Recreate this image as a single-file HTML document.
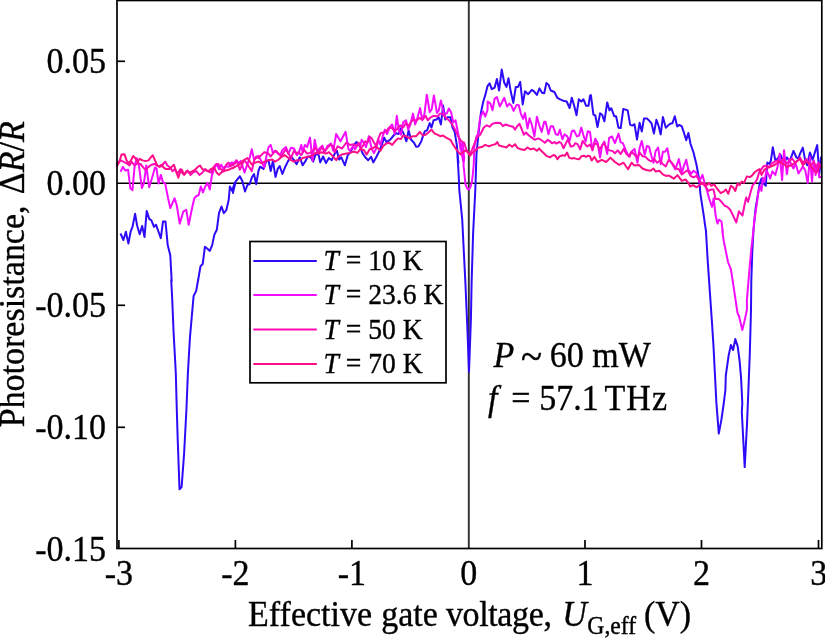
<!DOCTYPE html>
<html><head><meta charset="utf-8">
<style>
html,body{margin:0;padding:0;background:#fff;}
svg{display:block;}
text{font-family:"Liberation Serif",serif;fill:#000;stroke:#000;stroke-width:0.35;}
.tk{font-size:34px;}
.lg{font-size:27.6px;}
.ax{stroke:#000;stroke-width:1.7;fill:none;}
.c{fill:none;stroke-width:2;stroke-linejoin:round;}
</style></head>
<body>
<svg width="825" height="639" viewBox="0 0 825 639">
<rect width="825" height="639" fill="#fff"/>
<!-- zero lines -->
<line x1="117" y1="183.3" x2="821.8" y2="183.3" stroke="#000" stroke-width="1.4"/>
<line x1="468.8" y1="0" x2="468.8" y2="548.5" stroke="#2e2e2e" stroke-width="1.9"/>
<!-- CURVES -->
<path class="c" stroke="#2c0cf8" d="M120.5 233.5 L123.4 240.0 L125.9 231.7 L128.4 243.6 L130.7 231.3 L132.5 226.9 L135.1 213.8 L137.1 225.5 L139.7 234.2 L142.2 225.9 L144.5 237.1 L146.7 210.9 L149.2 218.9 L151.4 220.4 L154.0 226.9 L156.0 224.7 L158.6 232.0 L160.8 238.1 L163.0 221.5 L165.5 221.5 L167.7 245.1 L170.3 255.3 L171.7 281.5 L171.2 280.0 L172.2 298.9 L173.6 332.4 L175.8 372.9 L176.8 410.0 L177.7 439.1 L179.5 489.3 L181.6 487.1 L184.1 453.6 L186.4 410.0 L187.9 372.9 L189.9 338.2 L191.8 316.4 L193.6 296.0 L196.2 290.9 L198.1 280.0 L197.9 281.5 L200.5 266.2 L202.7 264.0 L204.9 246.8 L207.4 248.7 L209.8 250.9 L212.2 245.1 L214.3 234.9 L216.8 229.8 L219.0 213.1 L221.5 206.5 L223.8 213.1 L226.3 210.2 L228.7 200.0 L229.9 186.5 L232.1 190.9 L233.5 186.5 L235.0 182.2 L232.9 192.9 L235.8 181.3 L239.9 176.2 L242.4 181.3 L245.0 191.5 L247.5 184.9 L249.6 184.2 L251.8 177.6 L254.0 174.0 L256.2 184.2 L258.4 171.1 L260.1 166.7 L263.5 168.9 L266.4 160.9 L268.5 160.2 L270.7 171.1 L272.9 160.9 L275.5 176.9 L277.7 168.9 L279.7 166.0 L282.4 174.0 L285.3 166.7 L288.2 160.9 L291.1 156.5 L294.0 160.2 L296.6 164.1 L299.8 157.3 L302.7 165.3 L305.6 160.9 L307.8 156.5 L310.7 157.3 L313.2 161.6 L315.8 153.6 L318.7 155.1 L320.2 162.4 L323.1 156.5 L326.0 163.1 L328.9 158.0 L331.8 160.2 L334.7 153.6 L336.9 150.7 L339.1 159.5 L341.3 157.3 L344.9 165.3 L347.8 155.1 L350.0 152.9 L353.6 145.6 L356.5 142.0 L359.5 145.6 L362.4 152.9 L365.3 157.3 L368.2 160.2 L371.1 156.8 L373.3 162.4 L376.2 157.3 L379.1 151.5 L382.0 144.2 L384.2 137.6 L386.4 142.0 L390.0 139.8 L393.6 135.5 L395.8 133.3 L398.7 134.0 L400.9 128.2 L403.8 134.0 L406.4 141.3 L408.6 130.4 L411.1 139.8 L414.0 142.7 L416.2 146.7 L418.4 146.4 L421.3 141.3 L422.7 136.9 L424.9 131.1 L427.1 130.4 L429.7 123.1 L431.5 127.5 L433.6 120.2 L436.5 119.5 L438.7 117.3 L440.9 124.5 L443.1 105.6 L445.3 119.5 L447.5 117.3 L450.4 117.3 L452.5 127.5 L454.7 131.8 L456.9 145.6 L458.4 162.9 L456.9 146.4 L458.7 175.5 L459.3 190.0 L462.2 219.1 L465.4 282.9 L467.3 326.6 L469.0 371.7 L470.9 319.4 L471.6 283.0 L473.1 233.6 L475.3 190.0 L476.5 153.6 L478.7 131.8 L480.9 112.9 L483.1 102.2 L485.3 94.9 L487.5 86.2 L489.6 83.3 L491.8 89.1 L494.7 87.6 L496.9 78.9 L499.1 90.5 L501.7 69.5 L504.2 82.5 L506.4 86.9 L508.5 78.2 L510.7 91.3 L513.3 102.9 L515.8 86.9 L518.0 86.9 L520.2 81.8 L522.7 104.4 L525.0 91.3 L528.2 94.2 L531.8 89.8 L534.0 91.3 L536.9 94.9 L539.5 88.4 L542.0 92.7 L544.2 93.2 L546.4 83.0 L548.5 84.7 L550.7 90.5 L554.4 92.0 L557.3 97.8 L560.2 99.3 L563.1 100.7 L566.7 101.5 L569.6 108.0 L571.8 97.8 L574.0 105.1 L576.5 115.3 L578.8 99.3 L581.3 101.5 L583.5 99.3 L586.1 105.8 L588.5 105.8 L590.0 95.6 L590.9 95.1 L593.4 114.7 L595.3 115.5 L597.5 127.1 L600.1 113.3 L602.1 114.7 L604.4 121.3 L607.2 102.4 L609.5 110.4 L611.3 108.2 L614.2 116.2 L616.1 116.2 L618.5 127.8 L620.7 128.1 L623.3 108.9 L625.5 109.6 L627.7 110.4 L630.2 124.9 L632.4 125.6 L634.5 124.2 L637.0 139.5 L639.6 122.7 L641.8 131.5 L644.0 118.4 L646.9 118.4 L649.8 121.3 L651.6 123.5 L653.9 133.6 L656.4 119.8 L658.5 125.6 L660.7 134.4 L662.9 116.9 L665.8 127.8 L668.0 125.6 L670.2 123.7 L672.4 123.2 L674.8 116.2 L677.2 126.4 L679.3 124.9 L681.8 126.4 L684.0 132.9 L686.2 140.2 L688.4 132.9 L690.5 143.8 L693.5 152.5 L696.4 164.2 L699.3 180.2 L700.4 193.8 L703.3 212.7 L706.2 232.9 L705.9 230.0 L707.6 259.1 L709.8 291.1 L712.0 322.9 L713.5 346.4 L716.4 402.9 L717.1 411.8 L718.8 433.6 L721.5 419.1 L723.6 404.5 L725.4 390.0 L725.8 375.5 L728.7 355.1 L730.9 344.9 L733.1 350.0 L735.3 339.1 L737.7 346.4 L739.6 360.9 L741.1 378.4 L742.3 402.9 L741.8 411.8 L744.7 467.1 L746.9 426.4 L748.4 390.0 L749.8 353.6 L751.0 310.0 L751.3 280.9 L752.3 251.8 L753.5 230.0 L755.6 208.4 L757.8 195.3 L759.7 183.6 L761.5 178.5 L763.6 183.6 L765.8 185.8 L767.3 162.5 L769.5 164.0 L770.9 160.4 L772.8 147.3 L775.3 160.4 L777.5 158.9 L780.4 154.5 L782.5 159.6 L784.7 161.8 L786.9 157.5 L789.8 161.1 L793.5 150.9 L796.4 157.5 L798.5 158.2 L800.0 153.8 L802.8 147.6 L805.2 160.4 L807.1 165.2 L809.9 152.4 L812.6 159.8 L817.2 145.1 L819.3 173.8 L821.1 156.7"/>
<path class="c" stroke="#f40cff" d="M120.5 171.7 L123.0 166.9 L125.2 170.5 L128.1 169.8 L130.3 188.0 L132.5 190.2 L134.6 166.2 L136.8 158.2 L139.0 166.2 L141.9 188.0 L143.8 183.6 L146.3 165.5 L149.2 187.3 L152.1 177.8 L155.0 167.6 L156.5 168.4 L158.6 183.6 L160.8 174.9 L163.0 182.2 L165.2 183.6 L168.1 198.2 L170.3 208.1 L174.6 198.2 L176.8 205.5 L179.7 223.6 L183.4 211.3 L186.3 209.8 L188.7 224.8 L191.4 211.3 L194.3 198.2 L196.5 196.0 L198.6 195.3 L200.8 186.5 L203.0 192.4 L205.2 186.5 L207.4 182.9 L209.8 189.5 L211.7 176.4 L213.9 169.1 L216.8 164.0 L219.0 169.1 L221.2 164.7 L223.4 168.4 L225.5 166.2 L228.5 166.9 L231.4 162.5 L235.0 163.3 L232.9 164.5 L236.5 160.2 L238.7 163.1 L240.9 160.9 L244.5 172.5 L247.5 163.8 L249.6 158.0 L251.8 149.3 L254.0 159.5 L256.2 158.0 L258.4 155.8 L261.3 160.9 L264.2 167.5 L266.4 156.5 L268.5 147.1 L270.7 144.9 L272.9 152.9 L275.1 150.7 L278.0 153.6 L280.2 155.1 L282.4 150.0 L286.0 147.1 L288.2 153.6 L291.1 147.8 L294.0 148.5 L296.9 155.1 L299.1 152.2 L301.3 144.9 L302.7 152.2 L304.9 144.9 L307.1 147.1 L310.0 137.6 L312.6 160.9 L314.7 139.8 L317.3 152.2 L319.5 148.5 L322.4 145.6 L324.5 152.2 L327.2 146.4 L331.1 143.5 L333.3 150.7 L336.2 134.0 L340.5 141.3 L345.6 131.8 L348.5 149.3 L350.0 150.7 L352.9 146.4 L355.1 149.3 L358.0 143.5 L360.2 147.1 L361.6 139.8 L363.8 142.7 L366.0 147.1 L368.9 136.2 L371.8 149.3 L374.0 152.9 L376.2 148.5 L378.4 139.8 L380.5 144.9 L382.7 136.2 L384.9 129.6 L387.1 134.0 L390.0 126.7 L392.2 124.5 L394.8 134.0 L396.8 115.8 L399.0 131.1 L400.9 134.7 L403.1 122.4 L406.0 120.2 L408.2 129.6 L410.4 124.5 L413.0 113.6 L415.2 124.5 L417.6 117.3 L420.1 108.1 L422.3 120.2 L424.5 113.6 L426.8 94.7 L429.7 112.2 L431.7 109.3 L433.9 95.5 L437.0 112.9 L438.7 110.7 L440.9 100.5 L443.8 113.6 L446.7 113.6 L448.9 108.5 L451.1 112.2 L453.3 122.4 L455.5 120.2 L458.4 134.7 L460.5 144.2 L463.5 162.9 L459.1 139.1 L460.5 149.3 L462.7 142.7 L464.2 158.0 L463.5 165.0 L464.5 174.7 L465.5 184.4 L466.5 186.8 L467.4 188.8 L468.6 189.5 L469.8 188.3 L470.8 185.8 L471.8 182.5 L472.8 174.7 L473.7 165.0 L474.4 146.4 L476.3 136.9 L478.0 134.0 L480.2 117.3 L483.1 111.5 L485.3 116.5 L487.5 110.0 L487.7 101.5 L490.4 103.6 L492.5 110.2 L494.7 98.5 L496.9 97.1 L499.8 106.5 L502.0 102.2 L504.2 97.8 L507.1 106.5 L509.3 103.6 L511.5 105.8 L513.6 110.9 L516.5 105.1 L518.7 105.1 L520.9 113.8 L523.1 118.9 L525.0 113.1 L527.5 128.4 L529.6 118.2 L531.8 124.7 L534.4 136.4 L536.9 116.7 L539.1 124.7 L541.6 132.0 L544.2 121.8 L545.6 121.8 L548.5 134.2 L550.7 126.2 L552.9 126.2 L555.8 134.2 L558.0 134.9 L559.9 129.8 L562.4 139.3 L564.5 134.2 L567.2 136.4 L569.6 140.7 L571.8 131.3 L574.0 130.5 L576.9 136.4 L579.1 135.6 L581.3 127.6 L583.5 135.6 L585.6 141.5 L587.8 131.3 L590.0 132.0 L592.4 150.4 L595.3 138.7 L597.5 142.4 L600.1 157.6 L602.1 145.3 L604.4 141.6 L607.2 154.0 L609.1 138.0 L612.0 136.5 L614.9 143.1 L618.5 133.6 L620.7 142.4 L622.9 143.1 L625.8 150.4 L628.7 156.2 L630.9 152.5 L634.5 148.9 L637.5 162.7 L639.6 148.2 L641.8 140.9 L644.7 154.7 L646.9 146.0 L649.1 146.7 L651.3 155.5 L653.5 162.7 L655.6 151.1 L658.1 147.5 L660.7 164.2 L662.9 151.8 L665.1 151.8 L667.3 148.2 L669.5 159.8 L672.4 164.2 L675.3 169.3 L678.9 159.1 L681.8 172.9 L684.0 165.6 L686.2 159.8 L688.4 170.0 L691.3 173.6 L693.5 170.7 L696.4 172.9 L699.3 180.9 L698.9 182.2 L702.5 174.9 L704.7 183.6 L706.9 190.2 L709.1 198.2 L712.0 206.9 L713.7 198.2 L715.6 215.6 L717.5 223.6 L719.0 219.7 L721.5 221.5 L722.9 232.9 L722.2 230.0 L723.6 240.2 L728.0 262.0 L730.9 269.3 L733.8 288.2 L737.5 312.9 L739.6 318.0 L738.9 315.8 L742.3 330.1 L744.7 320.2 L746.9 310.0 L746.9 299.8 L749.1 273.6 L751.3 248.9 L753.5 230.0 L754.2 221.5 L756.4 206.9 L758.5 190.9 L760.0 186.5 L761.5 190.9 L762.9 177.8 L764.4 181.5 L766.5 170.5 L768.7 174.9 L770.2 178.5 L772.4 171.3 L775.3 174.9 L777.5 166.9 L779.6 153.8 L782.1 180.0 L784.0 150.2 L786.9 174.2 L789.1 158.9 L791.3 164.7 L793.5 168.4 L795.6 163.3 L798.5 173.5 L800.0 171.3 L802.8 166.5 L805.2 170.1 L807.7 182.9 L809.9 156.7 L812.0 181.7 L813.8 160.4 L815.6 175.0 L817.4 164.0 L819.3 177.4 L821.1 176.8"/>
<path class="c" stroke="#ff0ab4" d="M116.5 164.0 L118.6 161.8 L120.8 160.4 L123.7 161.8 L126.6 163.3 L129.5 165.5 L131.7 161.8 L134.6 165.5 L137.5 163.3 L140.5 164.0 L143.4 167.6 L145.5 169.8 L148.5 166.9 L151.4 164.7 L154.3 164.0 L157.2 165.5 L159.4 166.9 L161.5 166.2 L163.7 163.3 L165.2 161.8 L167.4 165.5 L170.3 167.6 L172.5 171.3 L174.6 169.1 L177.5 173.5 L180.5 169.1 L182.6 173.5 L184.8 174.2 L187.7 170.5 L190.6 174.9 L193.5 172.0 L196.5 171.3 L199.4 174.9 L202.3 172.7 L205.2 169.1 L208.1 171.3 L211.0 172.7 L213.9 166.9 L216.1 164.0 L218.3 164.0 L220.5 169.1 L223.4 170.5 L226.3 164.7 L228.5 162.5 L230.6 166.2 L232.8 164.0 L235.0 163.3 L232.9 165.3 L236.5 160.9 L239.9 169.6 L242.4 163.8 L244.5 160.2 L247.5 164.5 L251.8 171.1 L254.0 160.9 L256.2 156.5 L258.4 158.0 L261.3 155.1 L264.2 152.2 L267.8 152.9 L270.7 156.5 L272.9 153.6 L275.8 150.7 L278.7 153.6 L280.9 156.5 L283.8 152.2 L286.0 149.3 L288.2 152.9 L291.1 158.0 L294.0 150.7 L296.2 153.6 L298.4 152.2 L301.3 155.1 L304.2 150.0 L307.1 153.6 L310.0 152.9 L312.9 150.7 L315.8 147.8 L318.7 152.9 L321.6 147.1 L324.5 151.5 L327.5 147.8 L330.4 144.9 L333.3 146.4 L334.7 152.2 L337.6 146.4 L342.0 148.5 L346.4 142.7 L350.0 144.9 L353.6 144.2 L356.5 146.4 L358.7 142.7 L360.9 148.5 L363.1 145.6 L365.3 141.3 L367.5 142.7 L369.6 136.9 L371.8 138.4 L374.0 142.7 L376.2 145.6 L378.4 138.4 L380.5 133.3 L383.5 132.5 L386.4 131.1 L389.3 127.5 L392.2 128.2 L395.1 131.1 L397.3 128.9 L400.2 125.3 L403.1 127.5 L406.0 123.1 L408.9 126.0 L411.1 121.6 L414.0 119.5 L416.2 120.9 L419.1 118.0 L422.7 119.5 L425.6 115.8 L427.8 120.2 L430.7 117.3 L433.6 115.8 L437.3 116.5 L440.2 113.6 L443.1 114.4 L446.0 118.0 L448.9 120.2 L451.8 123.8 L454.7 128.9 L458.4 136.9 L461.3 141.3 L464.2 142.7 L466.4 150.0 L470.0 154.4 L472.2 149.3 L475.1 142.0 L477.3 136.9 L480.2 134.7 L483.8 127.5 L486.7 125.3 L489.6 126.7 L492.5 123.8 L496.2 122.8 L500.5 123.1 L502.7 126.0 L505.6 124.5 L509.3 125.7 L512.9 126.7 L515.1 129.6 L517.3 126.0 L519.5 123.8 L521.6 128.9 L523.8 134.7 L526.0 132.5 L528.9 135.5 L531.8 137.6 L534.7 139.8 L538.4 138.4 L542.0 140.5 L544.9 142.7 L547.8 139.8 L550.0 141.3 L551.9 143.3 L554.4 142.1 L556.5 143.6 L559.2 141.9 L561.2 143.1 L563.6 148.2 L566.0 143.1 L567.9 139.5 L570.8 146.5 L573.3 146.0 L575.2 143.3 L577.6 144.1 L580.1 149.4 L582.7 140.9 L585.4 144.5 L587.3 146.5 L590.0 144.5 L592.4 149.6 L594.5 143.1 L597.5 144.5 L599.6 149.6 L601.8 146.0 L604.0 143.1 L606.9 148.9 L609.8 150.4 L612.7 151.1 L614.9 153.3 L617.8 150.4 L620.7 154.0 L623.6 148.9 L626.5 154.0 L629.5 156.9 L631.6 151.8 L634.5 154.7 L637.5 157.6 L639.6 152.5 L642.5 156.2 L645.5 156.9 L648.4 159.8 L651.3 161.3 L654.2 159.1 L657.1 162.7 L660.0 160.5 L662.9 164.2 L665.8 166.4 L668.7 159.8 L672.4 163.5 L676.0 168.5 L678.9 169.3 L681.8 174.4 L684.7 172.2 L687.6 170.0 L690.5 175.8 L693.5 177.3 L696.4 175.8 L700.0 181.6 L702.5 183.6 L705.5 186.5 L708.4 190.9 L711.3 189.5 L713.5 189.5 L715.6 198.9 L718.5 198.9 L721.5 201.8 L724.4 205.5 L727.3 206.9 L730.2 209.8 L733.1 215.6 L736.3 222.5 L738.9 211.3 L742.5 215.6 L744.7 204.0 L746.2 197.5 L748.1 201.8 L750.5 192.4 L752.7 185.1 L754.9 182.9 L757.1 179.3 L759.3 172.0 L761.5 169.1 L763.6 166.2 L766.5 165.5 L768.7 167.6 L771.6 163.3 L774.5 161.8 L777.5 160.4 L780.4 162.5 L783.3 158.9 L786.2 163.3 L789.1 161.8 L792.0 158.2 L794.9 162.5 L797.8 160.4 L800.0 157.5 L802.8 162.8 L806.5 159.1 L808.9 164.0 L811.3 165.2 L813.8 161.6 L816.2 167.7 L818.7 162.8 L821.1 166.5"/>
<path class="c" stroke="#ff0c88" d="M116.5 166.9 L119.4 161.8 L121.5 154.5 L124.5 154.3 L126.6 160.4 L128.8 163.3 L131.0 160.4 L133.2 156.0 L135.4 158.2 L137.5 161.8 L139.7 158.9 L142.6 160.4 L145.5 161.1 L148.5 160.4 L151.4 156.7 L152.8 155.3 L155.0 160.4 L157.2 165.5 L159.4 166.2 L161.5 164.7 L163.7 167.6 L165.9 169.1 L169.5 169.1 L171.7 166.9 L173.9 164.7 L176.1 171.3 L178.3 177.8 L180.5 171.3 L181.9 169.8 L184.1 174.9 L186.3 171.3 L189.2 172.7 L192.1 171.3 L195.0 169.8 L197.9 166.9 L200.1 165.5 L202.3 169.1 L204.5 169.8 L208.1 171.3 L211.0 169.1 L213.9 167.6 L216.8 172.7 L219.0 174.9 L221.9 172.0 L225.5 170.5 L228.5 169.8 L231.4 168.4 L235.0 166.9 L232.9 168.2 L236.5 166.0 L240.2 163.8 L243.8 160.2 L247.5 158.0 L251.8 164.5 L254.0 163.1 L258.4 161.6 L261.3 163.1 L264.9 161.6 L268.5 160.2 L272.2 159.5 L275.1 161.6 L278.7 159.5 L280.9 157.3 L284.5 155.1 L287.5 157.3 L291.1 160.2 L294.0 161.6 L296.9 160.2 L299.8 160.2 L302.7 158.0 L305.6 157.3 L309.3 156.5 L312.9 155.1 L315.8 152.9 L318.7 153.6 L321.6 152.2 L326.0 153.6 L328.9 152.2 L331.8 155.1 L336.2 160.2 L338.4 156.5 L342.0 154.4 L346.4 153.6 L350.0 152.9 L353.6 151.5 L357.3 152.9 L360.2 149.3 L363.8 150.0 L366.7 154.4 L369.6 149.3 L372.5 148.5 L375.5 146.4 L378.4 148.5 L380.5 150.7 L383.5 145.6 L386.4 143.5 L389.3 142.7 L392.2 144.9 L395.1 141.3 L398.0 138.4 L400.9 139.1 L403.1 135.5 L406.0 136.2 L409.6 138.4 L412.5 136.2 L416.2 136.2 L419.8 131.8 L422.7 135.5 L425.6 134.7 L429.3 131.8 L431.5 129.6 L434.4 133.3 L437.3 134.7 L440.2 136.2 L443.1 135.5 L446.0 137.6 L450.4 139.8 L453.3 144.9 L456.2 149.3 L460.5 154.4 L464.9 150.7 L467.8 152.2 L470.0 155.8 L472.2 152.9 L475.1 150.7 L478.0 147.8 L481.6 147.1 L485.3 144.9 L488.9 146.4 L492.5 144.9 L495.5 144.2 L497.2 142.0 L499.1 145.6 L502.7 146.4 L506.4 147.5 L509.3 144.6 L512.2 146.7 L515.1 144.2 L517.3 147.8 L520.9 149.3 L524.5 150.0 L527.5 147.5 L530.4 149.3 L534.0 148.5 L536.9 150.7 L539.1 148.5 L542.0 151.5 L546.4 155.8 L550.0 157.3 L553.4 155.0 L555.3 155.7 L557.5 159.1 L559.7 156.2 L562.6 155.2 L565.0 155.7 L567.0 152.5 L569.2 157.6 L571.8 158.6 L574.2 158.1 L577.2 159.1 L579.1 159.3 L581.5 156.2 L583.9 155.7 L585.9 156.9 L588.3 155.7 L590.0 156.2 L591.6 160.5 L594.5 156.9 L597.5 162.0 L601.8 159.8 L606.2 162.0 L610.5 157.6 L614.9 162.0 L619.3 164.9 L623.6 162.7 L628.0 169.3 L631.6 162.7 L634.5 165.6 L638.9 164.9 L642.5 168.5 L646.2 170.0 L650.5 170.7 L653.5 168.5 L655.6 171.5 L659.3 170.7 L662.9 174.4 L665.8 175.8 L669.5 175.8 L673.8 178.7 L677.5 175.1 L681.8 180.9 L685.5 179.5 L688.4 182.9 L690.2 186.5 L693.1 185.1 L696.7 187.3 L700.4 184.4 L703.3 182.9 L706.9 185.1 L709.1 182.9 L711.3 185.8 L714.2 184.4 L717.1 188.7 L720.7 193.1 L723.6 191.6 L725.8 189.5 L728.3 193.8 L730.9 185.8 L733.1 187.3 L735.3 190.9 L737.5 183.6 L739.6 185.1 L741.8 181.5 L744.0 182.9 L746.9 176.4 L749.8 177.1 L752.0 175.6 L754.9 172.0 L757.1 170.5 L759.7 169.1 L761.5 174.9 L764.4 169.8 L767.3 167.6 L770.2 166.9 L773.1 165.5 L776.0 164.0 L778.9 161.8 L781.8 163.3 L784.7 164.7 L786.9 166.9 L790.5 165.5 L793.5 164.0 L796.4 161.8 L800.0 158.9 L802.8 165.2 L806.5 161.6 L808.9 162.8 L811.3 166.5 L813.8 170.1 L816.2 172.6 L818.0 170.1 L820.5 165.2"/>
<!-- axes -->
<rect class="ax" x="117" y="0.5" width="704.8" height="548"/>
<g class="ax" stroke-width="1.4">
<line x1="117" y1="61.3" x2="125" y2="61.3"/>
<line x1="117" y1="305.3" x2="125" y2="305.3"/>
<line x1="117" y1="427.3" x2="125" y2="427.3"/>
<line x1="118.9" y1="540" x2="118.9" y2="548.5"/>
<line x1="235.4" y1="540" x2="235.4" y2="548.5"/>
<line x1="351.9" y1="540" x2="351.9" y2="548.5"/>
<line x1="585" y1="540" x2="585" y2="548.5"/>
<line x1="701.5" y1="540" x2="701.5" y2="548.5"/>
<line x1="818.5" y1="540" x2="818.5" y2="548.5"/>
</g>
<text class="tk" text-anchor="end" transform="translate(106,72.5) scale(1,1.045)">0.05</text>
<text class="tk" text-anchor="end" transform="translate(106,194.5) scale(1,1.045)">0.00</text>
<text class="tk" text-anchor="end" transform="translate(106,316.5) scale(1,1.045)">-0.05</text>
<text class="tk" text-anchor="end" transform="translate(106,438.5) scale(1,1.045)">-0.10</text>
<text class="tk" text-anchor="end" transform="translate(106,560.5) scale(1,1.045)">-0.15</text>
<text class="tk" text-anchor="middle" transform="translate(118.9,585.3) scale(1,1.045)">-3</text>
<text class="tk" text-anchor="middle" transform="translate(235.4,585.3) scale(1,1.045)">-2</text>
<text class="tk" text-anchor="middle" transform="translate(351.9,585.3) scale(1,1.045)">-1</text>
<text class="tk" text-anchor="middle" transform="translate(468.8,585.3) scale(1,1.045)">0</text>
<text class="tk" text-anchor="middle" transform="translate(585,585.3) scale(1,1.045)">1</text>
<text class="tk" text-anchor="middle" transform="translate(701.5,585.3) scale(1,1.045)">2</text>
<text class="tk" text-anchor="middle" transform="translate(818.8,585.3) scale(1,1.045)">3</text>
<text class="tk" transform="translate(0,626) scale(1,1.045)"><tspan x="248.1">Effective</tspan> <tspan x="381.2">gate</tspan> <tspan x="446" letter-spacing="-0.38">voltage,</tspan> <tspan x="562.2" font-style="italic">U</tspan><tspan font-size="23.7" dy="8" dx="0.6">G,eff</tspan><tspan dy="-8" x="644">(V)</tspan></text>
<text class="tk" transform="translate(24.2,427.3) rotate(-90) scale(1,1.045)">Photoresistance,</text>
<text class="tk" transform="translate(24.2,194.2) rotate(-90) scale(1,1.045)">Δ<tspan font-style="italic">R</tspan>/<tspan font-style="italic">R</tspan></text>
<!-- legend -->
<rect x="250" y="241.5" width="196" height="141.3" fill="#fff" stroke="#000" stroke-width="1.7"/>
<line x1="253.3" y1="260.9" x2="316.8" y2="260.9" stroke="#2c0cf8" stroke-width="2"/>
<line x1="253.3" y1="295.1" x2="316.8" y2="295.1" stroke="#f40cff" stroke-width="2"/>
<line x1="253.3" y1="329.6" x2="316.8" y2="329.6" stroke="#ff0ab4" stroke-width="2"/>
<line x1="253.3" y1="363.9" x2="316.8" y2="363.9" stroke="#ff0c88" stroke-width="2"/>
<text class="lg" transform="translate(323.5,270) scale(1,1.045)"><tspan font-style="italic">T</tspan> = 10 K</text>
<text class="lg" transform="translate(323.5,304.2) scale(1,1.045)"><tspan font-style="italic">T</tspan> = 23.6 K</text>
<text class="lg" transform="translate(323.5,338.7) scale(1,1.045)"><tspan font-style="italic">T</tspan> = 50 K</text>
<text class="lg" transform="translate(323.5,373) scale(1,1.045)"><tspan font-style="italic">T</tspan> = 70 K</text>
<text class="tk" transform="translate(493.4,367.3) scale(1,1.045)"><tspan font-style="italic">P</tspan> <tspan font-size="39" dy="2.8" dx="-1.6">~</tspan><tspan dy="-2.8" dx="-0.9"> 60 mW</tspan></text>
<text class="tk" transform="translate(488,410.3) scale(1,1.045)"><tspan font-style="italic">f</tspan><tspan dx="5.3"> =</tspan><tspan dx="0.2"> 57.1</tspan><tspan dx="-3.2" letter-spacing="1.1"> THz</tspan></text>
</svg>
</body></html>
